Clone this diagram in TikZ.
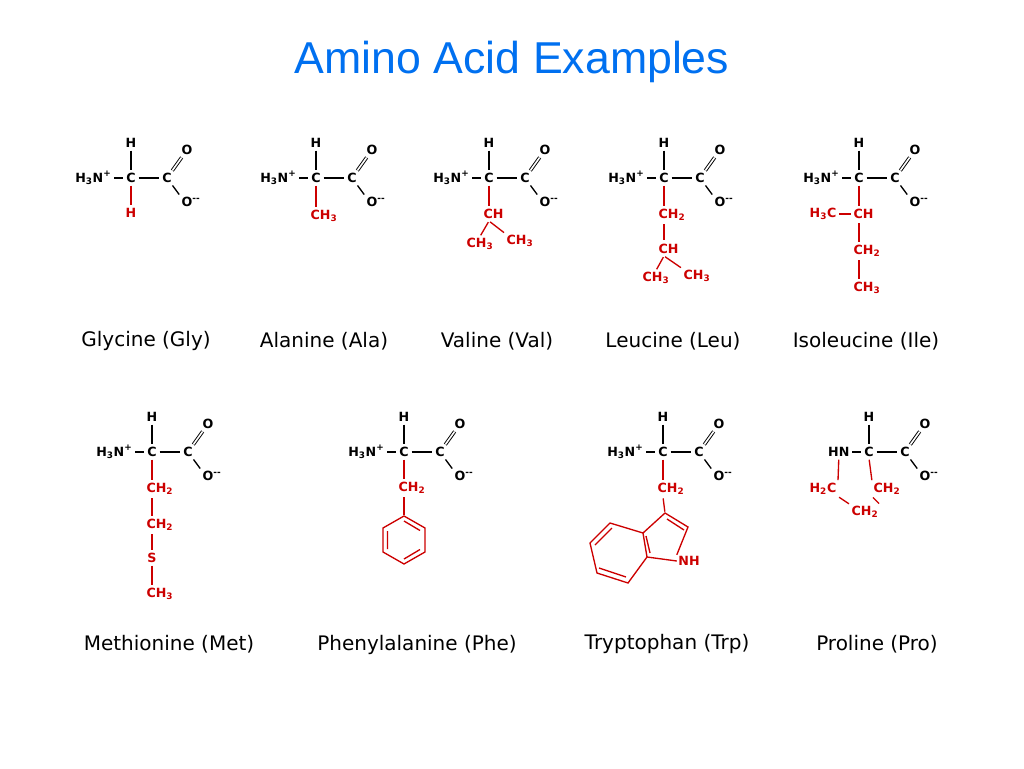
\documentclass[tikz,border=0pt]{standalone}
\usepackage{fontspec}
\setmainfont{Liberation Sans}
\newfontfamily\dvs{DejaVu Sans}
\definecolor{chem}{RGB}{204,0,0}
\definecolor{ttl}{RGB}{0,112,240}
\tikzset{
 atm/.style={font=\dvs\bfseries\fontsize{9.5}{10}\selectfont, inner sep=1pt},
 rt/.style={atm, text=chem},
 bd/.style={line width=1pt, shorten <=1pt, shorten >=1pt},
 rb/.style={bd, draw=chem},
 lab/.style={font=\dvs\fontsize{15}{16}\selectfont, inner sep=0pt},
 ring/.style={draw=chem, line width=1pt}
}
\newcommand\bbone[4]{% prefix, x, y, N text
 \node[atm] (#1a) at (#2,#3) {C};
 \node[atm] (#1h) at (#2,#3-35) {H};
 \node[atm, anchor=east] (#1n) at (#2-18,#3) {#4};
 \node[atm] (#1c) at (#2+36,#3) {C};
 \node[atm] (#1o) at (#2+56,#3-28) {O};
 \node[atm] (#1m) at (#2+60,#3+24) {O\textsuperscript{--}};
 \draw[bd] (#1h) -- (#1a);
 \draw[bd] (#1n) -- (#1a);
 \draw[bd] (#1a) -- (#1c);
 \draw[bd,double,double distance=1.2pt,line width=0.7pt] (#1c) -- (#1o);
 \draw[bd] (#1c) -- (#1m.north west);
}
\newcommand\sbs[1]{\textsubscript{#1}}
\newcommand\amm{H\sbs{3}N\textsuperscript{+}}
\begin{document}
\begin{tikzpicture}[x=0.75pt,y=-0.75pt]
\useasboundingbox (0,0) rectangle (1024,768);
\node[font=\fontsize{33.5}{36}\selectfont, text=ttl] (title) at (512,62) {Amino Acid Examples};
% Glycine
\bbone{g}{131}{178}{\amm}
\node[rt] (g1) at (131,213) {H};
\draw[rb] (ga) -- (g1);
\node[lab] (lg) at (146,341) {Glycine (Gly)};
% Alanine
\bbone{al}{316}{178}{\amm}
\node[rt,anchor=west] (al1) at (309,216) {CH\sbs{3}};
\draw[rb] (ala) -- (ala|-al1.north);
\node[lab] (lal) at (324,341) {Alanine (Ala)};
% Valine
\bbone{v}{489}{178}{\amm}
\node[rt,anchor=west] (v1) at (482,214) {CH};
\node[rt] (v2) at (480,244) {CH\sbs{3}};
\node[rt] (v3) at (520,241) {CH\sbs{3}};
\draw[rb] (va) -- (va|-v1.north);
\draw[rb] (489,221) -- (v2.north);
\draw[rb] (489,221) -- (v3.north west);
\node[lab] (lv) at (497,341) {Valine (Val)};
% Leucine
\bbone{l}{664}{178}{\amm}
\node[rt,anchor=west] (l1) at (657,215) {CH\sbs{2}};
\node[rt,anchor=west] (l2) at (657,249) {CH};
\node[rt] (l3) at (656,278) {CH\sbs{3}};
\node[rt] (l4) at (697,276) {CH\sbs{3}};
\draw[rb] (la) -- (la|-l1.north);
\draw[rb] (664,223) -- (664,241);
\draw[rb] (664,256) -- (l3.north);
\draw[rb] (664,256) -- (l4.north west);
\node[lab] (ll) at (673,341) {Leucine (Leu)};
% Isoleucine
\bbone{i}{859}{178}{\amm}
\node[rt,anchor=west] (i1) at (852,214) {CH};
\node[rt,anchor=east] (i0) at (838,214) {H\sbs{3}C};
\node[rt,anchor=west] (i2) at (852,251) {CH\sbs{2}};
\node[rt,anchor=west] (i3) at (852,288) {CH\sbs{3}};
\draw[rb] (ia) -- (ia|-i1.north);
\draw[rb] (i0) -- (i1);
\draw[rb] (859,222) -- (859,243);
\draw[rb] (859,259) -- (859,280);
\node[lab] (li) at (866,341) {Isoleucine (Ile)};
% Methionine
\bbone{m}{152}{452}{\amm}
\node[rt,anchor=west] (m1) at (145,489) {CH\sbs{2}};
\node[rt,anchor=west] (m2) at (145,525) {CH\sbs{2}};
\node[rt] (m3) at (152,558) {S};
\node[rt,anchor=west] (m4) at (145,594) {CH\sbs{3}};
\draw[rb] (ma) -- (ma|-m1.north);
\draw[rb] (152,497) -- (152,517);
\draw[rb] (152,533) -- (m3);
\draw[rb] (m3) -- (152,586);
\node[lab] (lm) at (169,644) {Methionine (Met)};
% Phenylalanine
\bbone{p}{404}{452}{\amm}
\node[rt,anchor=west] (p1) at (397,488) {CH\sbs{2}};
\draw[rb] (pa) -- (pa|-p1.north);
\draw[rb] (404,496) -- (404,516);
\draw[ring] (404,516) -- (425,528) -- (425,552) -- (404,564) -- (383,552) -- (383,528) -- cycle;
\draw[ring] (404,521) -- (420,530.5) (420,549.5) -- (404,559) (387.5,549) -- (387.5,531);
\node[lab] (lp) at (417,645) {Phenylalanine (Phe)};
% Tryptophan
\bbone{t}{663}{452}{\amm}
\node[rt,anchor=west] (t1) at (656,489) {CH\sbs{2}};
\draw[rb] (ta) -- (ta|-t1.north);
\draw[rb] (663,497) -- (665,513);
\node[rt] (tn) at (689,561) {NH};
\draw[ring] (643,533) -- (665,513) -- (688,527) -- (tn.north west);
\draw[ring] (tn.west) -- (647,557) -- (643,533);
\draw[ring] (667,519) -- (684,530) (646,536) -- (650,553);
\draw[ring] (643,533) -- (610,523) -- (590,543) -- (597,573) -- (628,583) -- (647,557);
\draw[ring] (612,528) -- (595,545) (599,568) -- (626,577);
\node[lab] (lt) at (667,644) {Tryptophan (Trp)};
% Proline
\bbone{r}{869}{452}{HN}
\node[rt] (r1) at (823,489) {H\sbs{2}C};
\node[rt] (r2) at (865,512) {CH\sbs{2}};
\node[rt] (r3) at (887,489) {CH\sbs{2}};
\draw[rb] (rn.south) -- (r1.north east);
\draw[rb] (r1.south east) -- (r2.north west);
\draw[rb] (r2.north east) -- (r3.south west);
\draw[rb] (r3.north west) -- (ra.south);
\node[lab] (lr) at (877,644) {Proline (Pro)};
\end{tikzpicture}
\end{document}
